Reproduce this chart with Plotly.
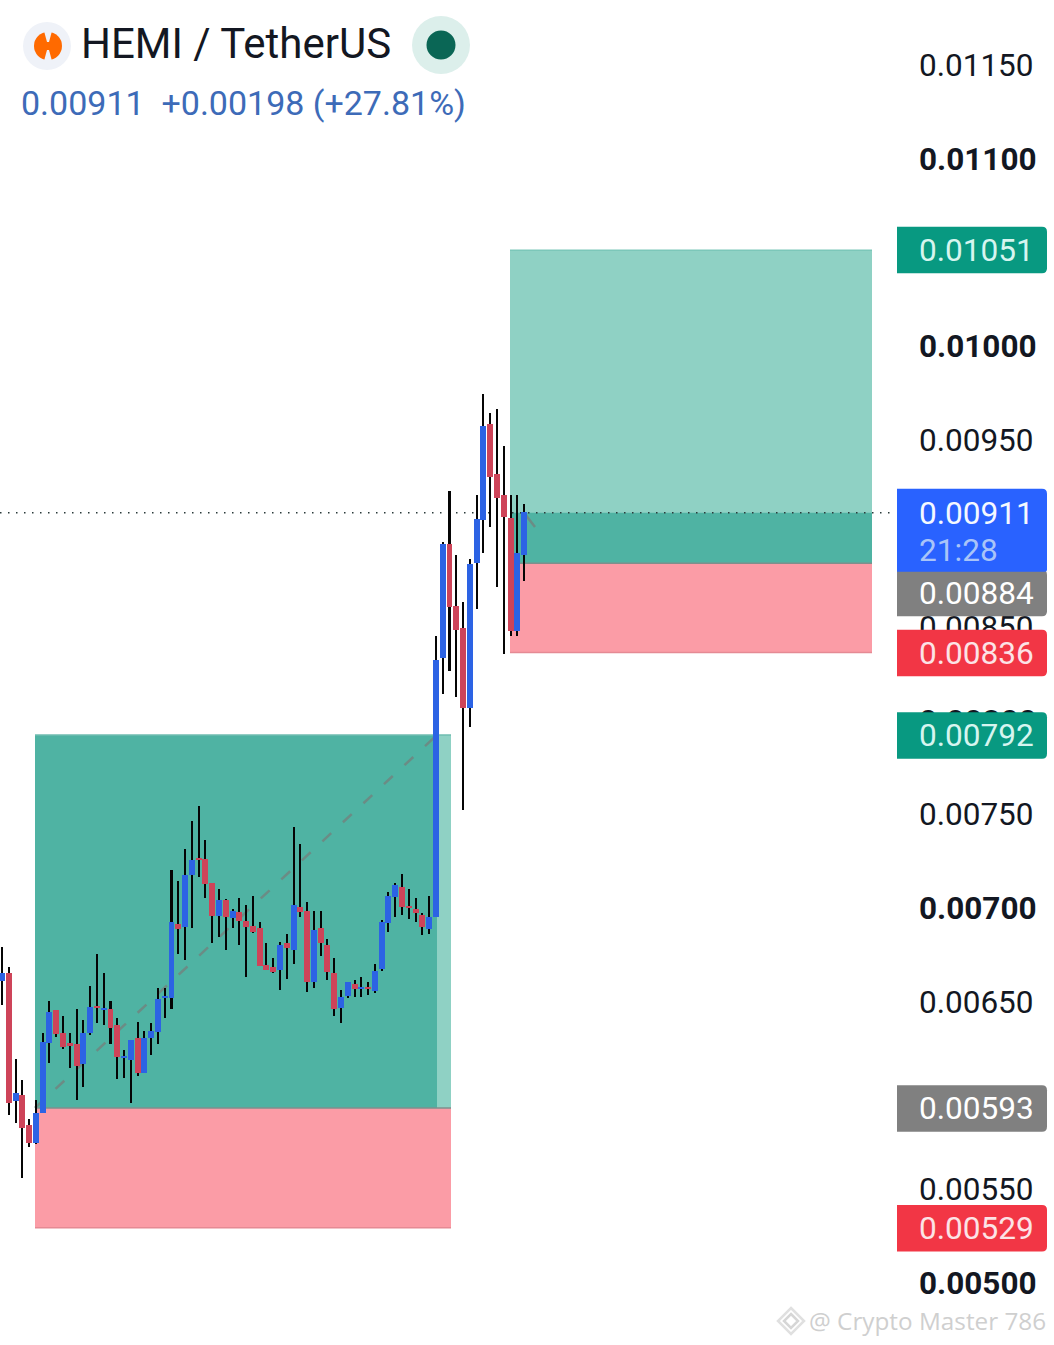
import numpy as np
import plotly.graph_objects as go

# ---------- data ----------
opens = [.006612,.006654,.005971,.006003,.005843,.005747,.005907,.006281,.006457,.006334,
         .006281,.006275,.006169,.006334,.006478,.006457,.006462,.006377,.006201,.006190,
         .006307,.006121,.006307,.006339,.006521,.006521,.006916,.006900,.007177,.007268,
         .007263,.007134,.006958,.007044,.006948,.006980,.006932,.006905,.006894,.006697,
         .006686,.006670,.006814,.006777,.007006,.006985,.006606,.006894,.006804,.006654,
         .006467,.006531,.006596,.006569,.006579,.006558,.006676,.006921,.007060,.007113,
         .007012,.006996,.006964,.006889,.006953,.008335,.008943,.008613,.008495,.008068,
         .008842,.009072,.009584,.009317,.009205,.009082,.008479,.008885]
highs = [.006793,.006686,.006195,.006083,.005875,.005976,.006334,.006505,.006457,.006425,
         .006334,.006462,.006403,.006585,.006756,.006654,.006505,.006414,.006243,.006297,
         .006393,.006345,.006387,.006574,.006574,.007204,.007145,.007316,.007465,.007545,
         .007364,.007134,.007102,.007049,.006996,.007054,.007017,.007065,.006926,.006814,
         .006734,.006820,.006862,.007433,.007343,.007033,.006985,.006985,.006836,.006734,
         .006564,.006606,.006617,.006633,.006606,.006702,.006937,.007086,.007134,.007182,
         .007102,.007054,.006974,.007065,.008453,.008954,.009226,.008885,.008634,.008863,
         .009205,.009744,.009642,.009664,.009466,.009205,.009205,.009157]
lows = [.006483,.005896,.005854,.005560,.005726,.005742,.005907,.006174,.006313,.006249,
        .006147,.005976,.006046,.006323,.006387,.006377,.006275,.006089,.006094,.005960,
        .006105,.006121,.006217,.006275,.006414,.006462,.006756,.006724,.006894,.007167,
        .007054,.006814,.006846,.006777,.006894,.006804,.006633,.006868,.006692,.006670,
        .006654,.006564,.006622,.006702,.006953,.006553,.006574,.006745,.006617,.006425,
        .006387,.006521,.006526,.006526,.006537,.006547,.006665,.006873,.006953,.006964,
        .006942,.006926,.006857,.006862,.006953,.008143,.008266,.008127,.007524,.007967,
        .008597,.008895,.009034,.008714,.008356,.008453,.008453,.008746]
closes = [.006654,.005960,.006014,.005827,.005747,.005907,.006286,.006446,.006329,.006259,
          .006265,.006158,.006334,.006473,.006467,.006467,.006361,.006206,.006211,.006297,
          .006121,.006307,.006345,.006515,.006531,.006926,.006889,.007177,.007257,.007257,
          .007129,.006958,.007044,.006953,.006985,.006932,.006900,.006873,.006692,.006670,
          .006660,.006804,.006788,.007017,.006980,.006606,.006884,.006814,.006660,.006462,
          .006526,.006606,.006569,.006579,.006569,.006665,.006926,.007065,.007124,.007006,
          .007001,.006974,.006900,.006953,.008324,.008943,.008607,.008485,.008068,.008837,
          .009077,.009573,.009301,.009189,.009088,.008479,.008895,.009114]

tick_values = [.0115, .0110, .0100, .0095, .0085, .0080, .0075, .0070, .0065, .0055, .0050]
tick_labels = ["0.01150", "<b>0.01100</b>", "<b>0.01000</b>", "0.00950", "0.00850",
               "<b>0.00800</b>", "0.00750", "<b>0.00700</b>", "0.00650", "0.00550", "<b>0.00500</b>"]

last_price = 0.00911
pos_left = dict(target=.007924, entry=.005934, stop=.005294)
pos_right = dict(target=.01051, entry=.00884, stop=.008364)
dash_end_price = 0.009034

price_tags = [(.00884, "#808080"), (.00836, "#F23645"), (.00792, "#089981"),
              (.00593, "#808080"), (.00529, "#F23645"), (.01051, "#089981")]
tag_pixel_shift = {.00884: -30}  # this tag is pushed below the last-price tag

# ---------- scales ----------
W, H, PLOT_W = 1054, 1345, 897
x_range = [-0.295, 132.0]
y_range = [0.004669, 0.011846]

def xp(px):  # page pixel -> paper x
    return px / PLOT_W
def yp(py):  # page pixel -> paper y
    return 1 - py / H
def xi(px):  # page pixel -> candle index
    return x_range[0] + px / PLOT_W * (x_range[1] - x_range[0])

o, h, l, c = map(np.array, (opens, highs, lows, closes))
BLUE, RED = "#2C63E4", "#CE4459"
body_colors = [BLUE if b >= a else RED for a, b in zip(opens, closes)]

fig = go.Figure()
fig.add_trace(go.Bar(x=list(range(len(o))), base=l, y=h - l, width=0.3,
                     marker=dict(color="#050505", line_width=0), hoverinfo="skip"))
fig.add_trace(go.Bar(x=list(range(len(o))), base=np.minimum(o, c), y=np.abs(c - o), width=0.88,
                     marker=dict(color=body_colors, line_width=0), hoverinfo="skip"))

LIGHT, DARK, PINK = "#8FD1C4", "#4FB3A3", "#FB9CA6"
shapes = []

def rect(x0, x1, y0, y1, color):
    shapes.append(dict(type="rect", layer="below", xref="x", yref="y", x0=x0, x1=x1, y0=y0, y1=y1,
                       fillcolor=color, line_width=0))

def seg(x0, x1, y0, y1, color, width=1.5, dash=None, xref="x", layer="below"):
    shapes.append(dict(type="line", layer=layer, xref=xref, yref="y", x0=x0, x1=x1, y0=y0, y1=y1,
                       line=dict(color=color, width=width, dash=dash)))

# left position
lx0, lx1, lx2 = xi(35), xi(437), xi(451)
rect(lx0, lx2, pos_left["entry"], pos_left["target"], LIGHT)
rect(lx0, lx1, pos_left["entry"], pos_left["target"], DARK)
rect(lx0, lx2, pos_left["stop"], pos_left["entry"], PINK)
seg(lx0, lx2, pos_left["target"], pos_left["target"], "#6FBDB0", 1.5)
seg(lx0, lx2, pos_left["entry"], pos_left["entry"], "#7F8F8C", 1.5)
seg(lx0, lx2, pos_left["stop"], pos_left["stop"], "#E58A94", 1.5)
seg(lx0, lx1, pos_left["entry"], pos_left["target"], "#6B8C85", 2.5, "12px,16px")

# right position
rx0, rx1 = xi(510), xi(872)
rect(rx0, rx1, pos_right["entry"], pos_right["target"], LIGHT)
rect(rx0, rx1, pos_right["entry"], last_price, DARK)
rect(rx0, rx1, pos_right["stop"], pos_right["entry"], PINK)
seg(rx0, rx1, pos_right["target"], pos_right["target"], "#7CC7B9", 1.5)
seg(rx0, rx1, pos_right["entry"], pos_right["entry"], "#7F8F8C", 1.5)
seg(rx0, rx1, pos_right["stop"], pos_right["stop"], "#E58A94", 1.5)
seg(xi(524), xi(535), last_price, dash_end_price, "#6B8C85", 2.5)

# last price dotted line
seg(xi(0), xi(890), last_price, last_price, "#2B3A3A", 1.5, "1.5px,6.5px")

def rounded(x0, x1, y0, y1, rt, rb):
    """Path in pixels, relative to an anchor (y up)."""
    return (f"M{x0},{y0+rb} L{x0},{y1} L{x1-rt},{y1} Q{x1},{y1} {x1},{y1-rt} "
            f"L{x1},{y0+rb} Q{x1},{y0} {x1-rb},{y0} L{x0},{y0} Z")

TAG_X0, TAG_X1 = 897, 1047
for price, color in price_tags:
    s = tag_pixel_shift.get(price, 0)
    shapes.append(dict(type="path", layer="above", xref="paper", yref="y", xsizemode="pixel", ysizemode="pixel",
                       xanchor=xp(TAG_X0), yanchor=price,
                       path=rounded(0, TAG_X1 - TAG_X0, s - 23, s + 23.5, 5, 5),
                       fillcolor=color, line_width=0))
# last-price tag, two rows
shapes.append(dict(type="path", layer="above", xref="paper", yref="y", xsizemode="pixel", ysizemode="pixel",
                   xanchor=xp(TAG_X0), yanchor=last_price,
                   path=rounded(0, TAG_X1 - TAG_X0, -59, 24, 5, 2),
                   fillcolor="#2962FF", line_width=0))

def circle(cx, cy, r, color):
    shapes.append(dict(type="circle", layer="above", xref="paper", yref="paper",
                       x0=xp(cx - r), x1=xp(cx + r), y0=yp(cy + r), y1=yp(cy - r),
                       fillcolor=color, line_width=0))

circle(47, 46, 24, "#EFF2F8")
circle(48, 46, 14, "#FF6A00")
for pts in ([(44, 31), (52, 31), (49, 42), (47, 42)], [(44, 61), (52, 61), (49, 50), (47, 50)]):
    shapes.append(dict(type="path", layer="above", xref="paper", yref="paper", line_width=0, fillcolor="#EFF2F8",
                       path="M" + " L".join(f"{xp(a):.5f},{yp(b):.5f}" for a, b in pts) + " Z"))
circle(441, 45, 29, "#DCEFEB")
circle(441, 45, 14.5, "#0A6655")

# watermark icon (nested diamonds)
for r, col in ((13, "#E0E0E0"), (7, "#D6D6D6")):
    pts = [(791, 1321 - r), (791 + r, 1321), (791, 1321 + r), (791 - r, 1321)]
    shapes.append(dict(type="path", layer="above", xref="paper", yref="paper",
                       line=dict(color=col, width=2.5),
                       path="M" + " L".join(f"{xp(a):.5f},{yp(b):.5f}" for a, b in pts) + " Z"))

ann = []
def text(s, px, py, size, color, yref="paper", yshift=0):
    ann.append(dict(text=s, xref="paper", yref=yref, x=xp(px), y=yp(py) if yref == "paper" else py,
                    xanchor="left", yanchor="middle", showarrow=False, align="left", yshift=yshift,
                    font=dict(family="Roboto", size=size, color=color), borderpad=0))

text("HEMI / TetherUS", 80, 44, 42, "#131722")
text("0.00911  +0.00198 (+27.81%)", 20, 103, 34, "#3D6BB8")
text("0.00911", 918, 513, 31.6, "#F4F8FF")
text("21:28", 918, 550, 31.6, "#A9C4F8")
for price, color in price_tags:
    tint = {"#808080": "#FFFFFF", "#F23645": "#FCE3E6", "#089981": "#D6F5EF"}[color]
    text(f"{price:.5f}", 918, price, 31.6, tint, yref="y", yshift=tag_pixel_shift.get(price, 0))
text("@ Crypto Master 786", 808, 1320, 24.3, "#CFCFCF")
ann[-1]["font"]["family"] = "Open Sans"

fig.update_layout(
    width=W, height=H, autosize=False, margin=dict(l=0, r=W - PLOT_W, t=0, b=0),
    paper_bgcolor="white", plot_bgcolor="white", showlegend=False, barmode="overlay",
    bargap=0, shapes=shapes, annotations=ann, hovermode=False,
    font=dict(family="Roboto", color="#131722"),
    xaxis=dict(range=x_range, visible=False, fixedrange=True),
    yaxis=dict(range=y_range, side="right", tickmode="array", tickvals=tick_values, ticktext=tick_labels,
               showgrid=False, zeroline=False, showline=False, ticks="", ticklabelstandoff=21,
               tickfont=dict(family="Roboto", size=31.5, color="#131722"), fixedrange=True),
)

fig.write_html("out.html", config=dict(displayModeBar=False),
               post_script="document.body.style.margin='0';document.body.style.overflow='hidden';")
